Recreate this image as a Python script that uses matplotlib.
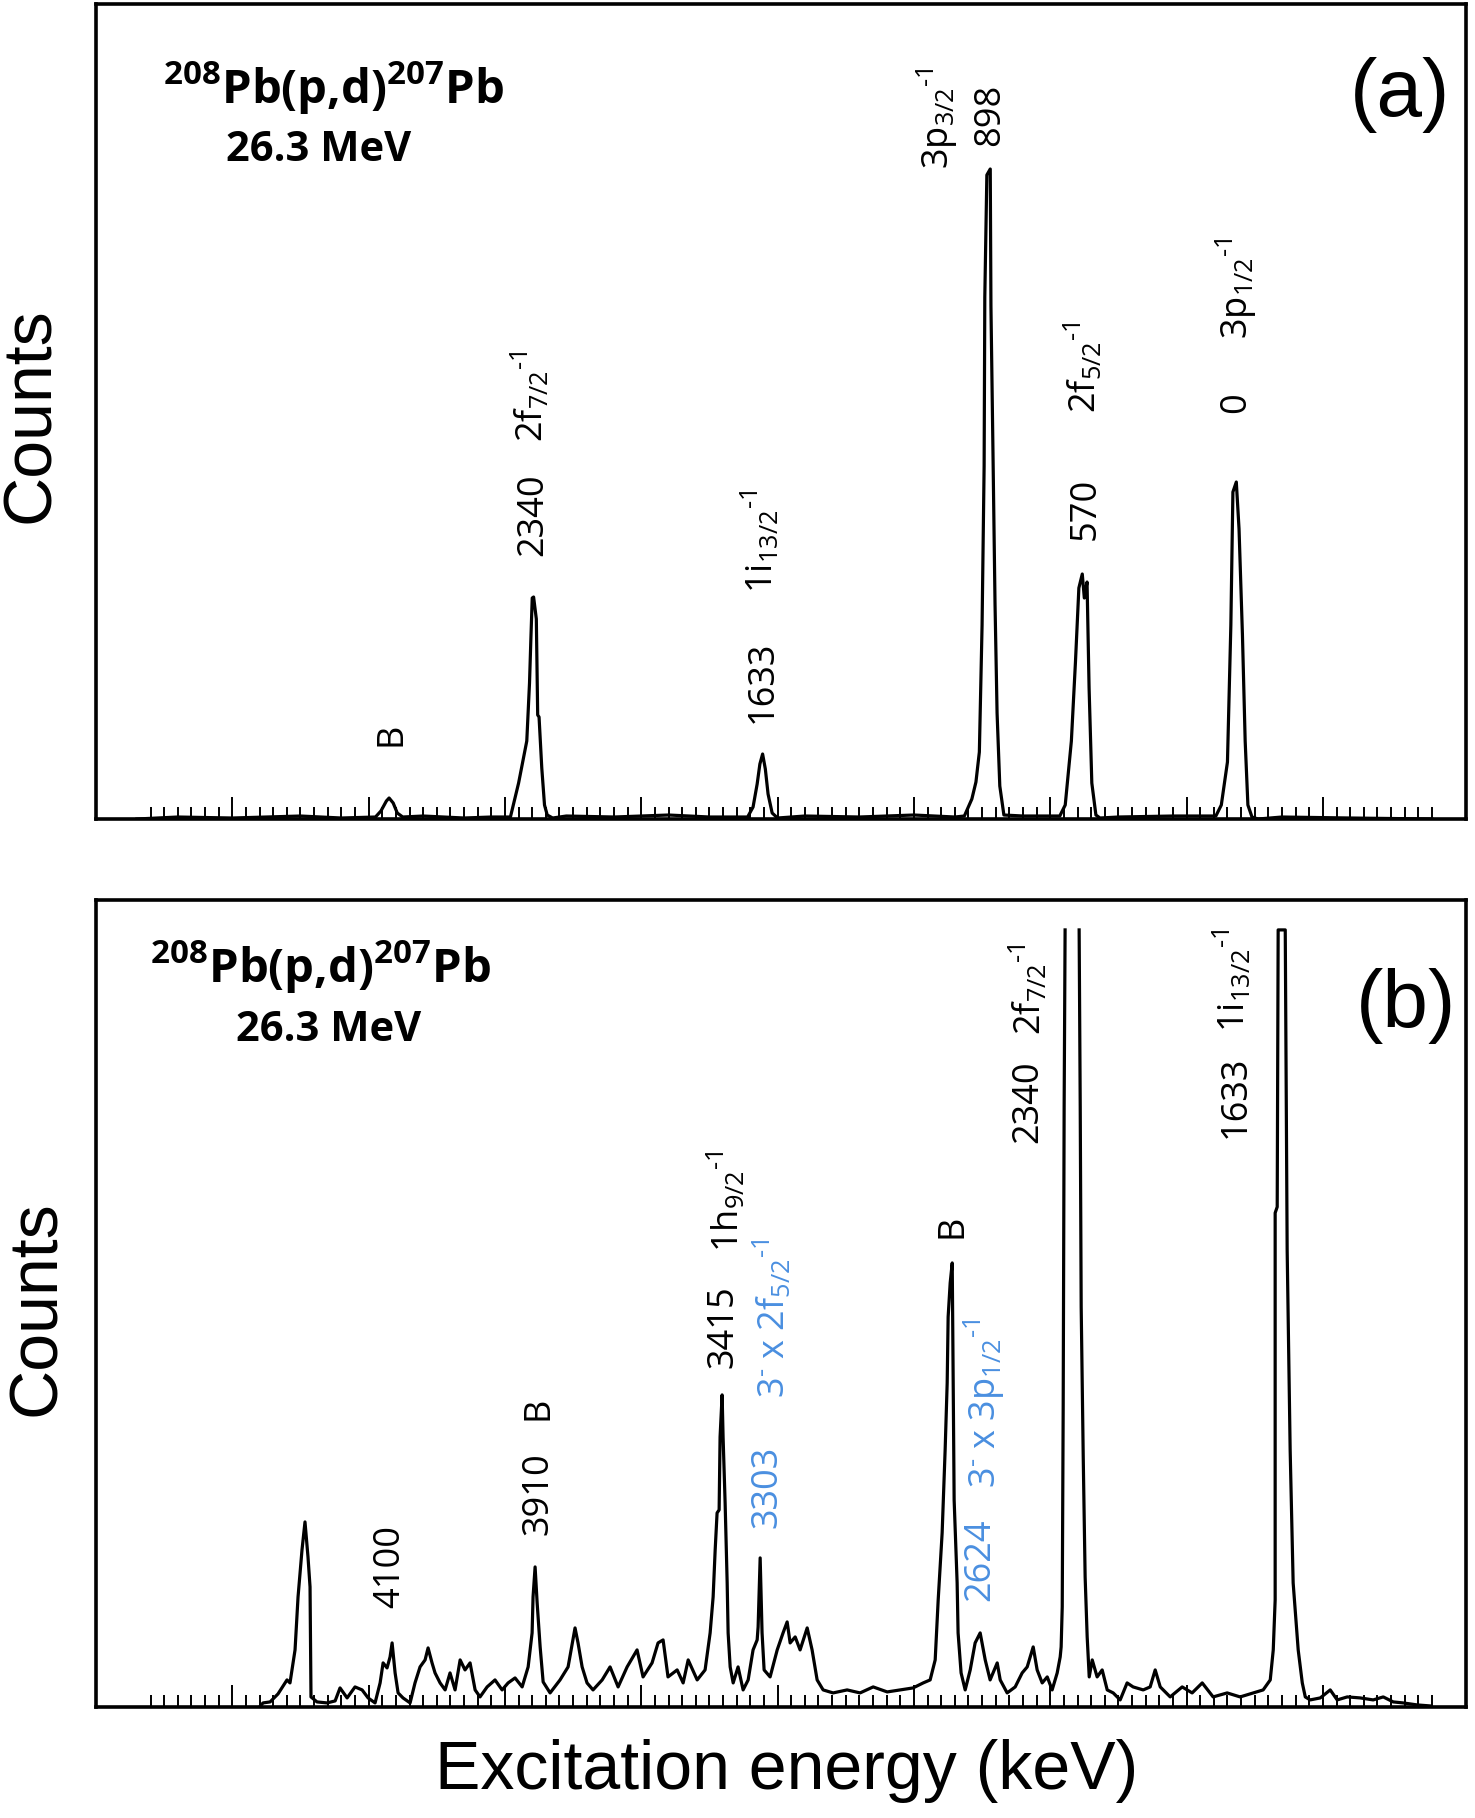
import numpy as np
import matplotlib
matplotlib.use("Agg")
import matplotlib.pyplot as plt
from matplotlib.ticker import FixedLocator

plt.rcParams['mathtext.fontset'] = 'custom'
plt.rcParams['mathtext.rm'] = 'Open Sans'
plt.rcParams['mathtext.it'] = 'Open Sans:italic'
plt.rcParams['mathtext.bf'] = 'Open Sans:bold'

# ---- panel (a): 208Pb(p,d)207Pb, low excitation range (channel, counts) ----
chan_a = [30, 60, 100, 150, 180, 205, 209, 213, 215, 218, 221, 225, 240, 270, 290,
          304, 310, 316, 318, 319, 320, 321, 323, 324, 325, 327, 329, 331, 335,
          345, 380, 420, 450,
          478, 482, 485, 487, 489, 491, 493, 496, 500,
          520, 560, 600, 630,
          637, 642.5, 645.5, 648, 650, 651.5, 652, 653.5, 656, 656.5, 658, 659.5, 661, 663, 666,
          680,
          707, 711, 715.5, 718.5, 721, 723.5, 725, 727, 728.5, 730.5, 733.5, 736.5,
          750, 790,
          821.5, 825.5, 830, 832.5, 834, 836.5, 838.5, 841, 843, 845, 848, 852.5,
          870, 920, 980]
counts_a = [0, 2, 1, 3, 1, 2, 8, 18, 21, 16, 6, 2, 3, 1, 2,
            2, 36, 78, 136, 180, 221, 222, 200, 104, 102, 51, 14, 4, 1,
            3, 2, 4, 2,
            2, 12, 35, 55, 65, 50, 25, 6, 1,
            3, 2, 4, 2,
            3, 20, 37, 67, 194, 353, 522, 644, 650, 513, 366, 215, 106, 33, 4,
            3,
            3, 14, 78, 157, 231, 245, 221, 237, 131, 36, 4, 1,
            2, 3,
            3, 14, 57, 194, 327, 337, 290, 184, 78, 14, 2, 0,
            2, 1, 0]

# ---- panel (b): same reaction, higher excitation range ----
nan = np.nan
chan_b = [120, 122.5, 127.7, 133.5, 140.1, 142.3, 146, 148.2, 151.1, 153.3, 155.5, 157, 157.7,
          162.1, 169.5, 175.4, 179, 184.2, 190, 195.2, 199.6, 204.7,
          208.4, 210.6, 213.5, 215.7, 217.2, 219.4, 221.6, 225.2, 230.4,
          234, 237.7, 241.4, 243.6, 246.5, 248.7, 252.4, 256.1, 259.7, 263.4, 267.1, 270.7,
          274.4, 278.1, 281.7, 286.9, 292.7, 297.9, 302.3, 307.4, 312.6,
          317, 319.9, 320.6, 322.1, 323.6, 325.8, 328,
          333.1, 340.4, 346.3, 351.4, 353.6, 356.6, 360.2, 364.6, 371.3, 377.1, 383, 389.6,
          396.9, 401.3, 407.9, 412.3, 416, 419.6, 426.3, 430.7, 434.4, 441, 446.8,
          450.5, 452.7, 454.2, 455.6, 457.1, 457.8, 459.3, 460, 461.5, 463, 463.7, 465.2, 467.4,
          471, 474.7, 478.4, 482, 485, 485.7, 487.2, 488.6, 490.1, 494.5,
          499.7, 504, 507, 509.2, 512.9, 516.5, 521.7, 525.3, 529, 533.4, 540.7, 551, 560.5,
          570.1, 580.4, 589.9, 599.4, 606.8,
          611.9, 615.6, 617.8, 620.7, 622.9, 624.4, 625.1, 626.6, 628.1, 628.8, 629.5, 631.7,
          632.4, 634.6, 637.6,
          641.3, 644.9, 648.6, 652.3, 655.9, 661.1, 663.3, 668.4, 674.3, 679.4, 683.1, 687.5,
          690.4, 694.1, 697.8, 701.4, 705.1, 707.3,
          708, 708.8, 709.5, 710.2, 710.9, nan,
          721.2, 722, 722.7, 724.2, 725.6, 727.1, 728.6,
          730.8, 734.4, 738.1, 741.8, 746.2, 751.3, 756.4, 760.8, 768.2, 773.3, 777, 780.7,
          788, 796.8, 804.1, 811.5, 819.5, 829.8, 839.3, 848.9, 856.2,
          861.4, 863.6, 865, 865, 866.5, 867.2, 872.4, 873.8, 876, 878.2, 881.9, 884.9, 887.1,
          890.7, 898.1, 905.4, 910.5, 917.9, 927.4, 936.9, 944.3, 951.6, 958.9, 969.2, 978.7]
counts_b = [0, 4, 5, 13, 27, 24, 57, 110, 157, 185, 150, 120, 10,
            5, 4, 6, 19, 9, 20, 17, 9, 4,
            24, 44, 39, 50, 64, 34, 14, 9, 4,
            24, 40, 47, 59, 44, 34, 24, 17, 34, 17, 47, 37,
            44, 17, 10, 20, 27, 17, 24, 29, 20,
            40, 74, 110, 140, 104, 60, 25,
            14, 27, 40, 79, 64, 40, 24, 17, 27, 40, 20, 40,
            57, 30, 44, 64, 67, 30, 37, 24, 47, 27, 37,
            74, 110, 157, 194, 197, 270, 312, 270, 204, 124, 74, 40, 24,
            40, 17, 27, 57, 67, 80, 149, 74, 37, 30,
            57, 74, 85, 64, 70, 57, 79, 57, 27, 17, 14, 17, 14,
            20, 15, 17, 19, 24,
            27, 47, 107, 174, 257, 324, 390, 424, 444, 324, 207, 124,
            74, 34, 17,
            37, 64, 74, 47, 27, 44, 27, 14, 20, 34, 40, 60,
            37, 24, 30, 17, 34, 50,
            60, 100, 300, 600, 777, nan,
            777, 600, 400, 250, 130, 70, 30,
            47, 30, 37, 17, 14, 7, 24, 20, 17, 20, 37, 20,
            10, 20, 14, 24, 10, 14, 10, 14, 17,
            27, 57, 107, 494, 500, 777, 777, 457, 257, 124, 57, 24, 10,
            7, 9, 17, 7, 10, 9, 7, 10, 5, 4, 2, 1]

# peak annotations: (channel, counts at text bottom, text, colour)
inv = r'{}^{\text{-1}}'
labels_a = [
    (216.4, 73, 'B', 'black'),
    (320.6, 263, '2340', 'black'),
    (319.2, 377, '2f$_{7/2}' + inv + '$', 'black'),
    (489.4, 96, '1633', 'black'),
    (487.9, 226, '1i$_{13/2}' + inv + '$', 'black'),
    (617.0, 650, '3p$_{3/2}' + inv + '$', 'black'),
    (656.0, 673, '898', 'black'),
    (725.6, 279, '570', 'black'),
    (725.0, 406, '2f$_{5/2}' + inv + '$', 'black'),
    (836.4, 406, '0', 'black'),
    (836.8, 480, '3p$_{1/2}' + inv + '$', 'black'),
]
blue = '#4a8fe0'
labels_b = [
    (215.7, 99, '4100', 'black'),
    (324.3, 172, '3910', 'black'),
    (324.3, 287, 'B', 'black'),
    (460.4, 339, '3415', 'black'),
    (463.0, 455, '1h$_{9/2}' + inv + '$', 'black'),
    (492.7, 179, '3303', blue),
    (496.3, 309, r'3$^{\text{-}}$ x 2f$_{5/2}' + inv + '$', blue),
    (628.1, 469, 'B', 'black'),
    (648.6, 106, '2624', blue),
    (651.5, 219, r'3$^{\text{-}}$ x 3p$_{1/2}' + inv + '$', blue),
    (684.2, 564, '2340', 'black'),
    (684.2, 672, '2f$_{7/2}' + inv + '$', 'black'),
    (836.4, 569, '1633', 'black'),
    (834.2, 675, '1i$_{13/2}' + inv + '$', 'black'),
]

major_ticks = list(range(100, 1000, 100))
minor_ticks = [c for c in range(40, 990, 10) if c % 100 != 0]

fig = plt.figure(figsize=(14.75, 18.18), dpi=100)
ax_a = fig.add_axes([0.0651, 0.5495, 0.9288, 0.4483])
ax_b = fig.add_axes([0.0651, 0.0611, 0.9288, 0.4439])


def style_axes(ax, ymax):
    ax.set_xlim(0, 1005)
    ax.set_ylim(0, ymax)
    for sp in ax.spines.values():
        sp.set_linewidth(2.6)
    ax.xaxis.set_major_locator(FixedLocator(major_ticks))
    ax.xaxis.set_minor_locator(FixedLocator(minor_ticks))
    ax.tick_params(axis='x', which='major', direction='in', length=16, width=1.4,
                   labelbottom=False, top=False)
    ax.tick_params(axis='x', which='minor', direction='in', length=9, width=1.4,
                   top=False)
    ax.tick_params(axis='y', left=False, labelleft=False)


def put_labels(ax, labels):
    for ch, y, txt, col in labels:
        ax.text(ch, y, txt, rotation=90, ha='center', va='bottom', color=col,
                fontsize=26, family='Open Sans')


for ax, ch, cnt, labels, ymax in [(ax_a, chan_a, counts_a, labels_a, 815),
                                  (ax_b, chan_b, counts_b, labels_b, 807)]:
    style_axes(ax, ymax)
    ax.plot(ch, cnt, color='black', lw=2.3)
    put_labels(ax, labels)

title = r'$^{\mathbf{208}}$Pb(p,d)$^{\mathbf{207}}$Pb'
ax_a.text(0.1737, 0.8785, title, transform=ax_a.transAxes, ha='center', va='baseline',
          fontsize=34, fontweight='bold', family='Open Sans')
ax_a.text(0.1628, 0.807, '26.3 MeV', transform=ax_a.transAxes, ha='center', va='baseline',
          fontsize=30, fontweight='bold', family='Open Sans')
ax_a.text(0.9518, 0.888, '(a)', transform=ax_a.transAxes, ha='center', va='center',
          fontsize=59, family='Liberation Sans')

ax_b.text(0.1639, 0.8984, title, transform=ax_b.transAxes, ha='center', va='baseline',
          fontsize=34, fontweight='bold', family='Open Sans')
ax_b.text(0.1697, 0.8253, '26.3 MeV', transform=ax_b.transAxes, ha='center', va='baseline',
          fontsize=30, fontweight='bold', family='Open Sans')
ax_b.text(0.956, 0.8686, '(b)', transform=ax_b.transAxes, ha='center', va='center',
          fontsize=59, family='Liberation Sans')

fig.text(0.0207, 0.7717, 'Counts', rotation=90, ha='center', va='center',
         fontsize=49, family='Liberation Sans')
fig.text(0.0251, 0.2805, 'Counts', rotation=90, ha='center', va='center',
         fontsize=49, family='Liberation Sans')
fig.text(0.533, 0.0259, 'Excitation energy (keV)', ha='center', va='center',
         fontsize=49, family='Liberation Sans')

fig.savefig('out.png', dpi=100)
